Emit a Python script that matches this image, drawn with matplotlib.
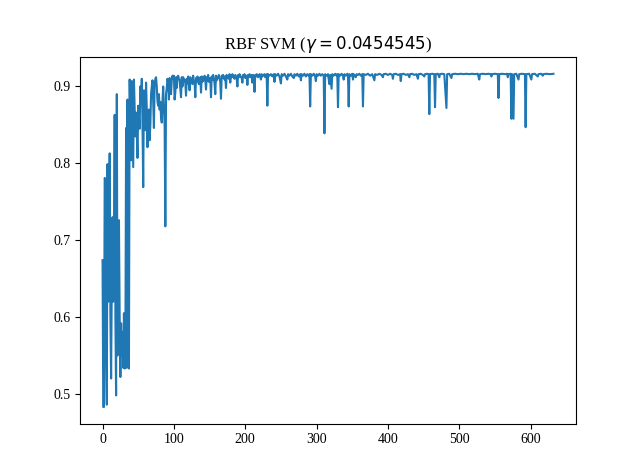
import matplotlib
matplotlib.use("Agg")
import matplotlib.pyplot as plt

plt.rcParams["font.family"] = ["Liberation Serif", "DejaVu Sans"]

# === accuracy per iteration, early part (every step) ===
steps_early = list(range(0, 113))
acc_early = [
    0.674, 0.483, 0.483, 0.781, 0.779, 0.56, 0.486, 0.799, 0.62, 0.70,
    0.813, 0.60, 0.52, 0.65, 0.730, 0.62, 0.70, 0.863, 0.60, 0.498,
    0.890, 0.55, 0.66, 0.726, 0.60, 0.522, 0.592, 0.55, 0.58, 0.534,
    0.605, 0.533, 0.55, 0.846, 0.534, 0.883, 0.60, 0.533, 0.909, 0.84,
    0.804, 0.907, 0.85, 0.795, 0.909, 0.87, 0.835, 0.866, 0.84, 0.807,
    0.875, 0.86, 0.845, 0.90, 0.88, 0.91, 0.85, 0.769, 0.895, 0.86,
    0.843, 0.905, 0.87, 0.821, 0.86, 0.87, 0.83, 0.85, 0.89, 0.90,
    0.908, 0.88, 0.846, 0.903, 0.91, 0.912, 0.90, 0.88, 0.875, 0.89,
    0.87, 0.88, 0.86, 0.853, 0.88, 0.90, 0.876, 0.85, 0.718, 0.89,
    0.898, 0.91, 0.905, 0.883, 0.911, 0.905, 0.890, 0.908, 0.914, 0.91,
    0.914, 0.883, 0.892, 0.912, 0.898, 0.912, 0.914, 0.91, 0.908, 0.897,
    0.886, 0.912, 0.90,
]

# === middle part (every step, noisy band) ===
steps_mid = list(range(113, 230))
acc_mid = [
    0.912, 0.906, 0.909, 0.905, 0.888, 0.910, 0.904, 0.913, 0.907, 0.895,
    0.912, 0.908, 0.909, 0.903, 0.914, 0.907, 0.905, 0.886, 0.911, 0.906,
    0.913, 0.909, 0.903, 0.910, 0.912, 0.892, 0.913, 0.906, 0.910, 0.908,
    0.914, 0.909, 0.896, 0.912, 0.908, 0.915, 0.906, 0.909, 0.911, 0.886,
    0.913, 0.909, 0.915, 0.910, 0.904, 0.890, 0.914, 0.908, 0.911, 0.912,
    0.915, 0.910, 0.906, 0.884, 0.914, 0.911, 0.915, 0.912, 0.909, 0.913,
    0.898, 0.915, 0.911, 0.913, 0.910, 0.916, 0.905, 0.914, 0.912, 0.916,
    0.913, 0.912, 0.910, 0.915, 0.913, 0.910, 0.900, 0.915, 0.912, 0.916,
    0.913, 0.913, 0.911, 0.905, 0.915, 0.913, 0.916, 0.911, 0.912, 0.914,
    0.902, 0.915, 0.913, 0.916, 0.912, 0.913, 0.915, 0.905, 0.915, 0.913,
    0.893, 0.915, 0.913, 0.916, 0.914, 0.912, 0.914, 0.916, 0.913, 0.909,
    0.916, 0.913, 0.914, 0.915, 0.916, 0.912, 0.913,
]

# === later part (read where the curve changes) ===
steps_late = [
    230, 231, 232, 234, 236,
    238, 240, 241, 242, 244, 246, 248, 250, 251, 253, 255, 257, 259, 260, 262,
    264, 266, 268, 269, 271, 273, 275, 277, 278, 279, 281, 283, 285, 287, 289,
    290, 291, 292, 294, 296, 298, 299, 300, 302, 304, 306, 308, 310, 311, 312,
    314, 316, 318, 319, 321, 322, 324, 326, 328, 329, 330, 331, 333, 335, 337,
    338, 339, 341, 343, 344, 345, 346, 348, 350, 351, 352, 355, 356, 358, 360,
    362, 364, 365, 366, 369, 372, 375, 378, 381, 382, 385, 388, 391, 393, 394,
    397, 400, 403, 406, 407, 408, 411, 414, 417, 418, 419, 422, 425, 428, 430,
    431, 434, 437, 440, 442, 443, 446, 449, 451, 452, 455, 457, 458, 459, 462,
    465, 466, 467, 470, 472, 473, 476, 479, 482, 483, 486, 489, 490, 494, 498,
    502, 506, 510, 514, 518, 522, 526, 528, 529, 533, 537, 541, 544, 545, 546,
    550, 554, 555, 556, 560, 564, 567, 568, 569, 572, 573, 574, 576, 577, 580,
    583, 584, 588, 592, 593, 594, 598, 601, 602, 606, 610, 611, 615, 617, 618,
    622, 627, 632,
]
acc_late = [
    0.916, 0.875, 0.916, 0.914, 0.916,
    0.913, 0.916, 0.906, 0.916, 0.914, 0.9165, 0.913, 0.904, 0.916, 0.914, 0.9165, 0.913, 0.909, 0.916, 0.914,
    0.9165, 0.913, 0.911, 0.916, 0.914, 0.9165, 0.913, 0.916, 0.908, 0.916, 0.914, 0.9165, 0.913, 0.916, 0.914,
    0.916, 0.874, 0.916, 0.914, 0.9165, 0.913, 0.907, 0.916, 0.914, 0.9165, 0.914, 0.916, 0.914, 0.839, 0.916,
    0.914, 0.916, 0.903, 0.915, 0.897, 0.916, 0.914, 0.9165, 0.914, 0.916, 0.873, 0.916, 0.914, 0.9165, 0.914,
    0.909, 0.916, 0.914, 0.9165, 0.915, 0.874, 0.916, 0.914, 0.9165, 0.909, 0.916, 0.912, 0.916, 0.915, 0.9165,
    0.914, 0.916, 0.874, 0.916, 0.915, 0.9165, 0.914, 0.916, 0.908, 0.916, 0.915, 0.9165, 0.915, 0.912, 0.916,
    0.9165, 0.915, 0.9165, 0.915, 0.910, 0.916, 0.9165, 0.915, 0.916, 0.907, 0.916, 0.9165, 0.915, 0.916, 0.912,
    0.916, 0.9165, 0.915, 0.916, 0.910, 0.916, 0.9165, 0.915, 0.913, 0.916, 0.9165, 0.916, 0.864, 0.916, 0.9165,
    0.916, 0.873, 0.916, 0.9165, 0.912, 0.916, 0.9165, 0.916, 0.872, 0.916, 0.9165, 0.911, 0.916, 0.9165, 0.916,
    0.9165, 0.916, 0.9165, 0.916, 0.9165, 0.916, 0.9165, 0.909, 0.916, 0.9165, 0.916, 0.9165, 0.916, 0.913, 0.916,
    0.9165, 0.916, 0.885, 0.916, 0.9165, 0.916, 0.9165, 0.912, 0.916, 0.9165, 0.858, 0.916, 0.858, 0.916, 0.9165,
    0.909, 0.916, 0.9165, 0.916, 0.847, 0.916, 0.9165, 0.909, 0.916, 0.9165, 0.913, 0.916, 0.9165, 0.914, 0.916,
    0.9165, 0.916, 0.9165,
]

steps = steps_early + steps_mid + steps_late
acc = acc_early + acc_mid + acc_late

fig = plt.figure(figsize=(6.4, 4.76), dpi=100)
plt.plot(steps, acc)
plt.title(r"RBF SVM ($\gamma = 0.0454545$)")
plt.savefig("out.png")
